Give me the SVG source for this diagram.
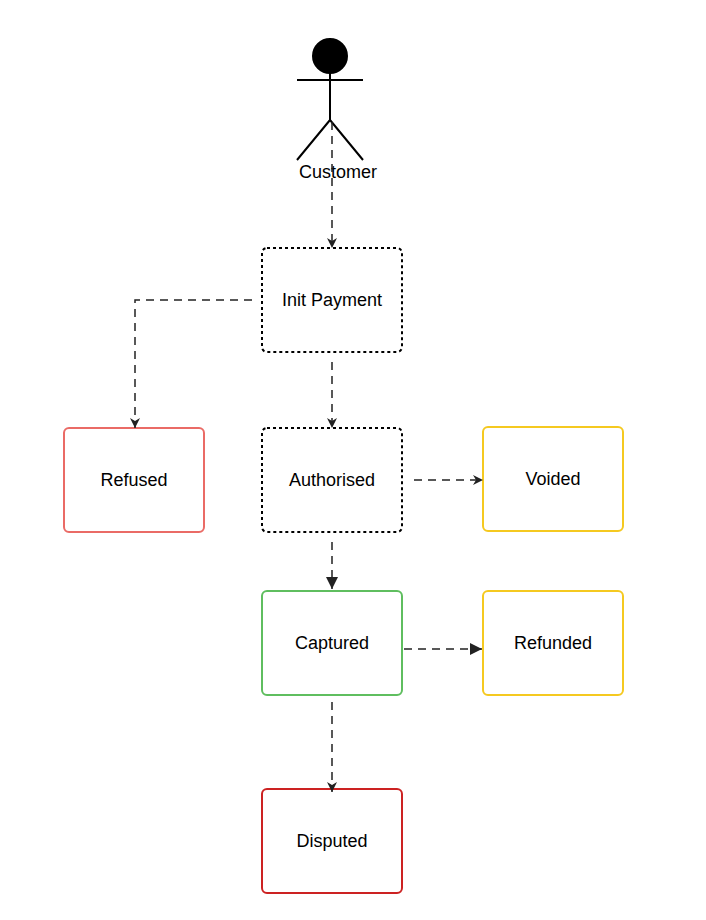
<svg xmlns="http://www.w3.org/2000/svg" width="706" height="920" viewBox="0 0 706 920">
<style>
text{font-family:"Liberation Sans",Arial,sans-serif;font-size:18px;fill:#000;text-anchor:middle;dominant-baseline:central}
.b{fill:#fff;stroke-width:2}
.dot{stroke:#000;stroke-dasharray:3 3}
.e{fill:none;stroke:#222;stroke-width:1.5;stroke-dasharray:8 6}
</style>
<defs>
<marker id="v" markerWidth="12" markerHeight="12" refX="11" refY="6" orient="auto" markerUnits="userSpaceOnUse"><path d="M1,1 L11,6 L1,11 L4,6 Z" fill="#222"/></marker>
<marker id="t" markerWidth="14" markerHeight="14" refX="12" refY="6" orient="auto" markerUnits="userSpaceOnUse"><path d="M0,0 L12,6 L0,12 Z" fill="#222"/></marker>
</defs>
<g id="customer" stroke="#000" stroke-width="2" fill="none">
<circle cx="330" cy="56" r="17" fill="#000"/>
<path d="M297,80 H363 M330,73 V120 M330,120 L297,160 M330,120 L363,160"/>
<text x="338" y="172" stroke="none">Customer</text>
</g>
<g id="init"><rect class="b dot" x="262" y="248" width="140" height="104" rx="5"/><text x="332" y="300">Init Payment</text></g>
<g id="refused"><rect class="b" stroke="#ea6b66" x="64" y="428" width="140" height="104" rx="5"/><text x="134" y="480">Refused</text></g>
<g id="authorised"><rect class="b dot" x="262" y="428" width="140" height="104" rx="5"/><text x="332" y="480">Authorised</text></g>
<g id="voided"><rect class="b" stroke="#f5c920" x="483" y="427" width="140" height="104" rx="5"/><text x="553" y="479">Voided</text></g>
<g id="captured"><rect class="b" stroke="#5fbe5f" x="262" y="591" width="140" height="104" rx="5"/><text x="332" y="643">Captured</text></g>
<g id="refunded"><rect class="b" stroke="#f5c920" x="483" y="591" width="140" height="104" rx="5"/><text x="553" y="643">Refunded</text></g>
<g id="disputed"><rect class="b" stroke="#cc2222" x="262" y="789" width="140" height="104" rx="5"/><text x="332" y="841">Disputed</text></g>
<g id="connectors">
<path class="e" d="M332,122 V248" marker-end="url(#v)"/>
<path class="e" d="M252,300 H135 V428" marker-end="url(#v)"/>
<path class="e" d="M332,362 V428" marker-end="url(#v)"/>
<path class="e" d="M414,480 H483" marker-end="url(#v)"/>
<path class="e" d="M332,542 V589" marker-end="url(#t)"/>
<path class="e" d="M404,649 H482" marker-end="url(#t)"/>
<path class="e" d="M332,702 V792" marker-end="url(#v)"/>
</g>
</svg>
